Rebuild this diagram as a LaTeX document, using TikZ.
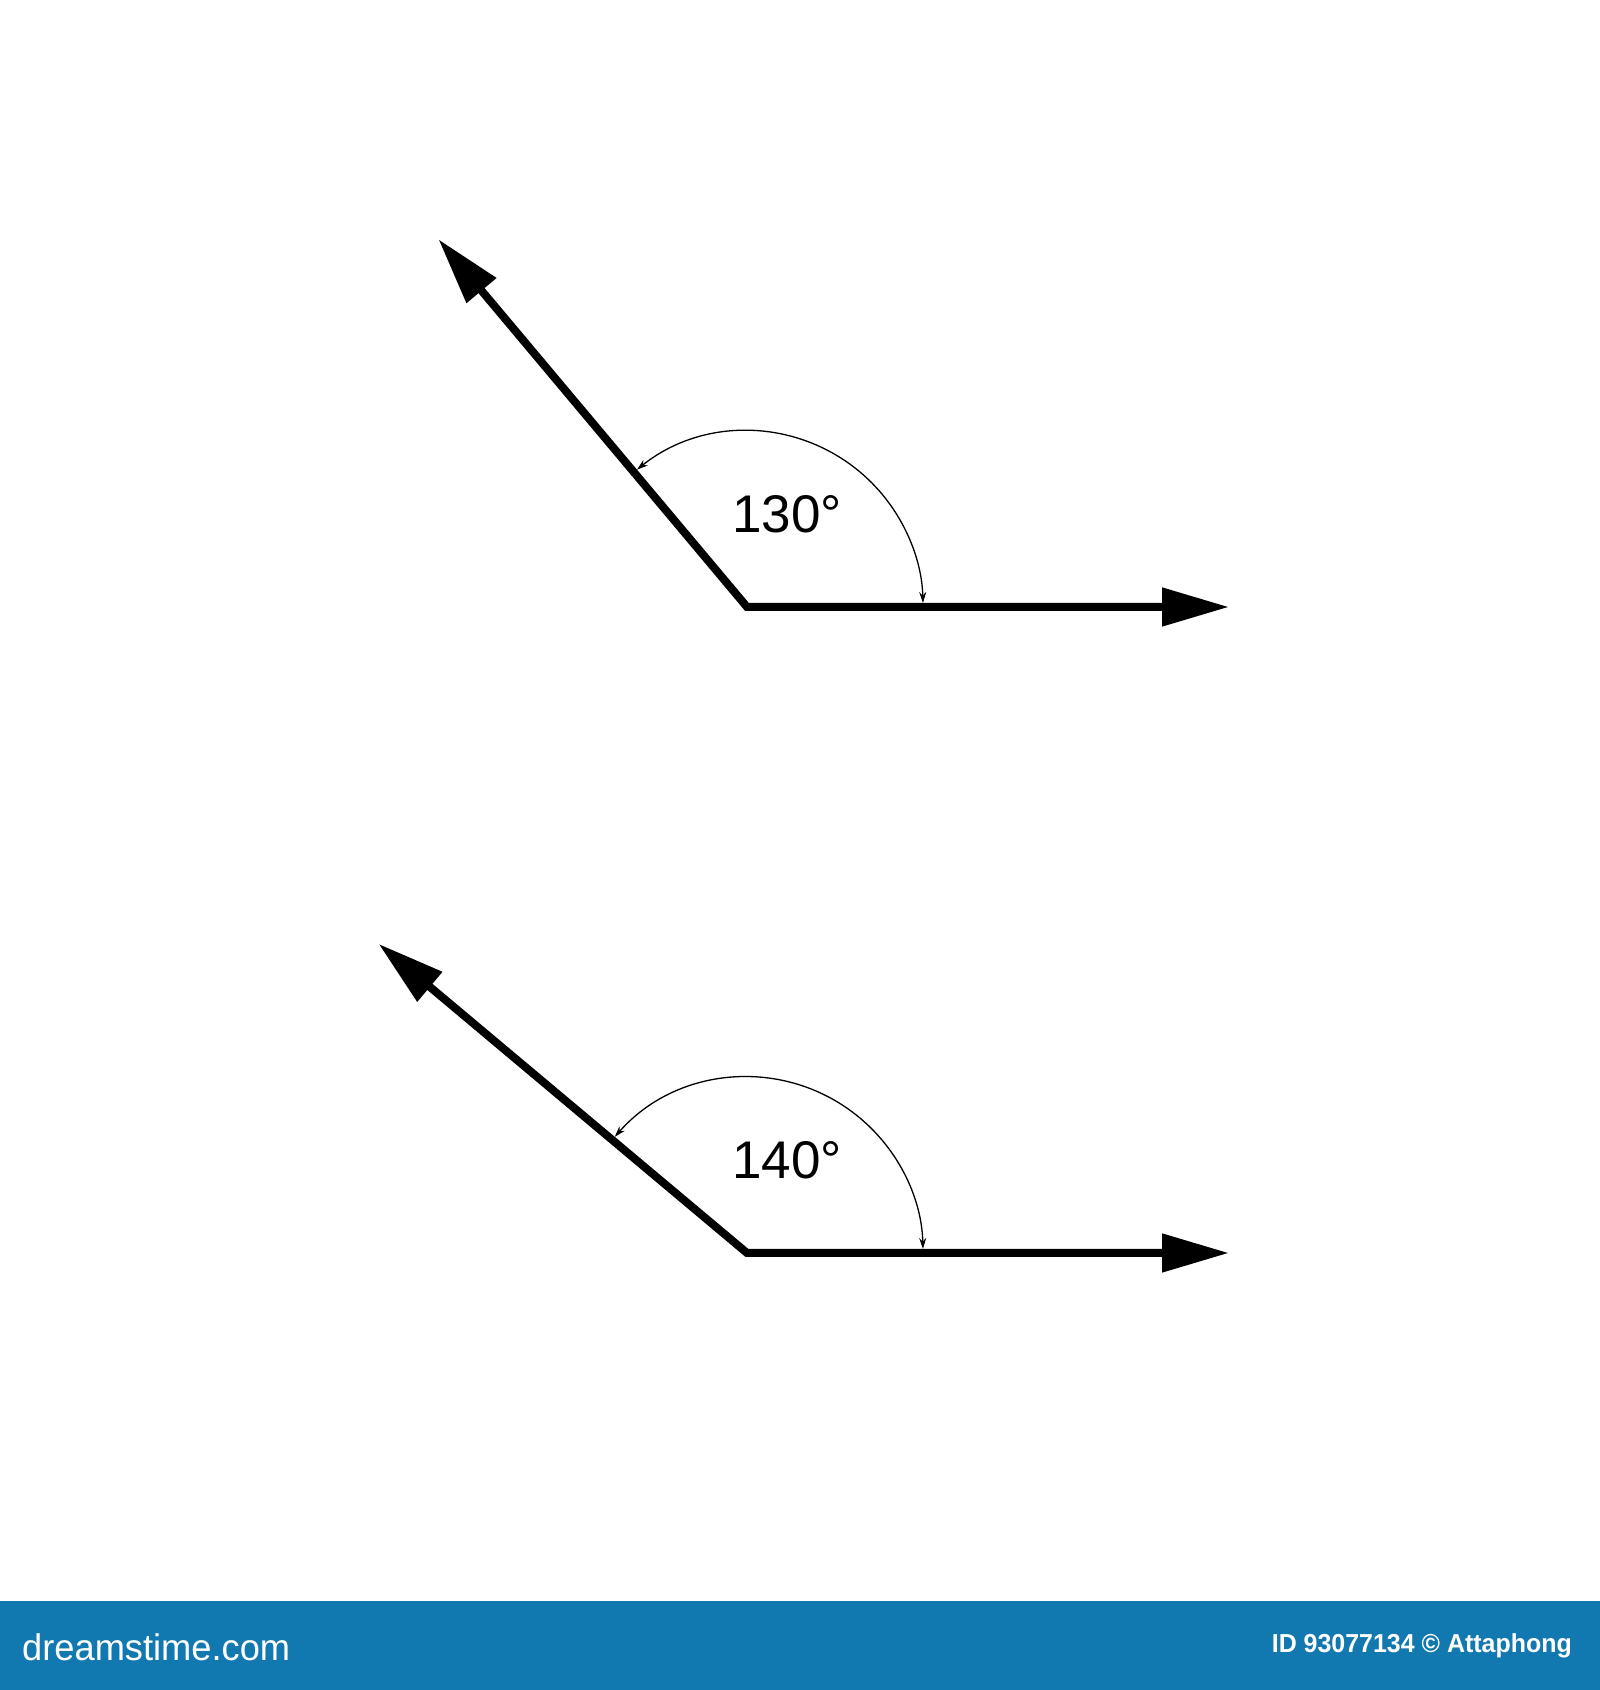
\documentclass[tikz,border=0pt]{standalone}
\usepackage{fontspec}
\setmainfont{Liberation Sans}
\usetikzlibrary{arrows.meta,calc}
\definecolor{dtblue}{RGB}{17,120,176}
\tikzset{
  ray/.style={line width=8pt, line join=miter, {Triangle[length=67pt,width=37pt]}-{Triangle[length=67pt,width=37pt]}},
  anglearc/.style={line width=1.3pt, {Stealth[length=11pt,width=7pt]}-{Stealth[length=11pt,width=7pt]}},
  anglelabel/.style={font=\fontsize{53}{60}\selectfont, inner sep=0pt},
  footertext/.style={text=white, inner sep=0pt}
}
\begin{document}
\begin{tikzpicture}[x=1pt,y=1pt]
\useasboundingbox (0,0) rectangle (1600,1690);
\fill[white] (0,0) rectangle (1600,1690);
% top angle (130 deg)
\coordinate (v1) at (747,1083);
\coordinate (a1) at ($(v1)+(130:480)$);
\coordinate (h1) at (1229,1083);
\draw[ray] (a1) -- (v1) -- (h1);
\coordinate (s1) at ($(v1)+(128.7:176)$);
\draw[anglearc] (s1) arc[start angle=128.7, end angle=1.3, radius=176];
\node[anglelabel] (l1) at (787,1176) {130°};
% bottom angle (140 deg)
\coordinate (v2) at (747,437);
\coordinate (a2) at ($(v2)+(140:481)$);
\coordinate (h2) at (1229,437);
\draw[ray] (a2) -- (v2) -- (h2);
\coordinate (s2) at ($(v2)+(138.7:176)$);
\draw[anglearc] (s2) arc[start angle=138.7, end angle=1.3, radius=176];
\node[anglelabel] (l2) at (787,530) {140°};
% footer bar
\fill[dtblue] (0,0) rectangle (1600,89);
\node[footertext, anchor=west, font=\fontsize{37}{42}\selectfont, xscale=0.98] (logo) at (22,43) {dreamstime.com};
\node[footertext, anchor=east, font=\bfseries\fontsize{26}{30}\selectfont, xscale=0.96] (credit) at (1572,44) {ID 93077134 © Attaphong};
\end{tikzpicture}
\end{document}
